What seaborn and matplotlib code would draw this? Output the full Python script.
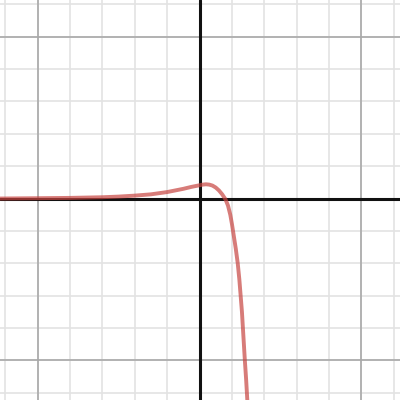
import matplotlib
matplotlib.use("Agg")
import matplotlib.pyplot as plt
import seaborn as sns
import numpy as np
import pandas as pd

# Curve readings (x, y)
curve_x = [-6.2, -5.0, -4.0, -3.0, -2.5, -2.0, -1.5, -1.0, -0.75, -0.5, -0.25,
           0.0, 0.1, 0.2, 0.3, 0.4, 0.5, 0.6, 0.7, 0.8, 0.88, 0.95, 1.0, 1.05,
           1.12, 1.18, 1.23, 1.27, 1.31, 1.34, 1.37, 1.40, 1.44, 1.48]
curve_y = [0.0, 0.01, 0.02, 0.04, 0.06, 0.09, 0.13, 0.2, 0.25, 0.3, 0.36,
           0.41, 0.43, 0.44, 0.43, 0.40, 0.34, 0.25, 0.13, -0.02, -0.22, -0.5, -0.78, -1.1,
           -1.55, -2.0, -2.5, -3.0, -3.5, -4.0, -4.5, -5.0, -5.6, -6.3]

minor_ticks = list(range(-6, 7))
major_ticks = [-5, 0, 5]

sns.set_style("white")
fig = plt.figure(figsize=(4, 4), dpi=100)
ax = fig.add_axes([0, 0, 1, 1])

df = pd.DataFrame({"x": curve_x, "y": curve_y})

for t in minor_ticks:
    ax.axvline(t, color="#e3e3e3", lw=1.2, zorder=0)
    ax.axhline(t, color="#e3e3e3", lw=1.2, zorder=0)
for t in major_ticks:
    if t != 0:
        ax.axvline(t, color="#a9a9a9", lw=1.2, zorder=1)
        ax.axhline(t, color="#a9a9a9", lw=1.2, zorder=1)
ax.axvline(0, color="#111111", lw=2.2, zorder=2)
ax.axhline(0, color="#111111", lw=2.2, zorder=2)

sns.lineplot(data=df, x="x", y="y", sort=False, ax=ax, color="#c74440",
             alpha=0.7, lw=2.8, zorder=3)

ax.set_xlim(-6.16, 6.19)
ax.set_ylim(-6.22, 6.13)
ax.set_xticks([])
ax.set_yticks([])
ax.set_xlabel("")
ax.set_ylabel("")
for s in ax.spines.values():
    s.set_visible(False)

fig.savefig("out.png", dpi=100)
